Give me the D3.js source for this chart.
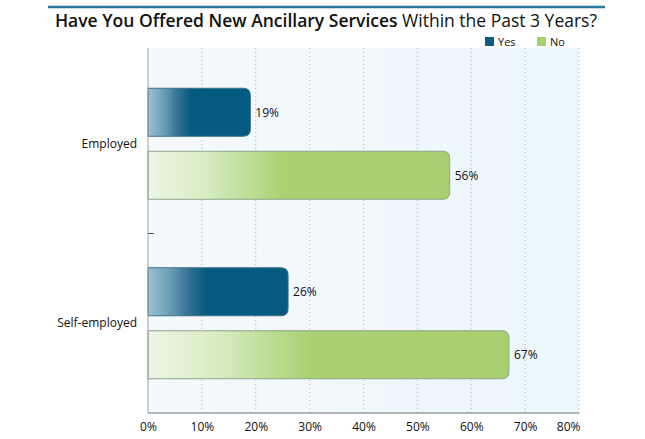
<!DOCTYPE html>
<html><head><meta charset="utf-8">
<script src="https://cdn.jsdelivr.net/npm/d3@7/dist/d3.min.js"></script>
<style>body{margin:0;background:#fff;font-family:"Open Sans",Lato,sans-serif;}</style>
</head><body>
<svg id="c" width="645" height="439"></svg>
<script>
const categories = ["Employed", "Self-employed"];
const seriesNames = ["Yes", "No"];
const yesValues = [19, 26];
const noValues = [56, 67];
const tickValues = [0, 10, 20, 30, 40, 50, 60, 70, 80];

const FONT = "'Open Sans',Lato,sans-serif";
const svg = d3.select("#c").attr("font-family", FONT);
const m = {l:148, r:579, t:48, b:413};
const x = d3.scaleLinear().domain([0, 80]).range([m.l, m.r]);
const y0 = d3.scaleBand().domain(categories).range([54, m.b]);
const defs = svg.append("defs");

const bg = defs.append("linearGradient").attr("id","bg");
bg.append("stop").attr("offset",0).attr("stop-color","#f6f9fc");
bg.append("stop").attr("offset",1).attr("stop-color","#ebf7fc");
const gy = defs.append("linearGradient").attr("id","gYes");
[[0,"#9cc1d3"],[0.15,"#6f9fb9"],[0.3,"#2f6f92"],[0.42,"#055a80"],[1,"#045a80"]].forEach(s=>gy.append("stop").attr("offset",s[0]).attr("stop-color",s[1]));
const gn = defs.append("linearGradient").attr("id","gNo");
[[0,"#edf6e6"],[0.2,"#d6ebc0"],[0.45,"#a9d172"],[1,"#a8d070"]].forEach(s=>gn.append("stop").attr("offset",s[0]).attr("stop-color",s[1]));

// title
svg.append("line").attr("x1",48).attr("x2",605).attr("y1",7).attr("y2",7).attr("stroke","#2a7a9e").attr("stroke-width",2.5);
const t = svg.append("text").attr("x",326).attr("y",27).attr("text-anchor","middle").attr("font-size",17.5).attr("fill","#111");
t.append("tspan").attr("font-weight",600).text("Have You Offered New Ancillary Services ");
t.append("tspan").text("Within the Past 3 Years?");

// legend
const lg = [{n:seriesNames[0],c:"#0b5c82",x:485},{n:seriesNames[1],c:"#a8d070",x:537}];
lg.forEach(d=>{
  svg.append("rect").attr("x",d.x).attr("y",37).attr("width",9).attr("height",9).attr("fill",d.c);
  svg.append("text").attr("x",d.x+13).attr("y",46).attr("font-size",11).attr("fill","#111").text(d.n);
});

// plot bg
svg.append("rect").attr("x",m.l).attr("y",m.t).attr("width",m.r-m.l).attr("height",m.b-m.t).attr("fill","url(#bg)");
// grid
svg.selectAll(".grid").data(tickValues.slice(1)).enter().append("line")
  .attr("x1",d=>x(d)).attr("x2",d=>x(d)).attr("y1",m.t).attr("y2",m.b)
  .attr("stroke","#a9b4bb").attr("stroke-dasharray","1,3").attr("stroke-width",1);

function barPath(x0,yT,w,h,r){
  return `M${x0},${yT}H${x0+w-r}Q${x0+w},${yT} ${x0+w},${yT+r}V${yT+h-r}Q${x0+w},${yT+h} ${x0+w-r},${yT+h}H${x0}Z`;
}
const bw = 48, gap = 15;
categories.forEach((c,i)=>{
  const center = y0(c) + y0.bandwidth()/2;
  const start = center - (2*bw+gap)/2;
  const vals = [yesValues[i], noValues[i]];
  vals.forEach((v,j)=>{
    const yT = start + j*(bw+gap);
    const w = x(v)-x(0);
    svg.append("path").attr("d",barPath(x(0),yT,w,bw,7))
      .attr("fill", j===0?"url(#gYes)":"url(#gNo)")
      .attr("stroke", j===0?"#3d6f8a":"#8aa58a").attr("stroke-width",1);
    svg.append("text").attr("x",x(v)+5).attr("y",yT+bw/2+4.5).attr("font-size",12).attr("fill","#111").text(v+"%");
  });
  svg.append("text").attr("x",137).attr("y",center+4).attr("text-anchor","end").attr("font-size",12).attr("fill","#111").text(c);
});

// axes
svg.append("line").attr("x1",m.l).attr("x2",m.l).attr("y1",m.t).attr("y2",m.b).attr("stroke","#9aa0a4");
svg.append("line").attr("x1",m.l).attr("x2",m.l+6).attr("y1",y0(categories[1])).attr("y2",y0(categories[1])).attr("stroke","#555");
svg.append("line").attr("x1",m.l).attr("x2",m.r).attr("y1",m.b).attr("y2",m.b).attr("stroke","#9aa0a4").attr("stroke-width",1.5);
const ax = svg.append("g").attr("transform",`translate(0,${m.b})`)
  .call(d3.axisBottom(x).tickValues(tickValues).tickFormat(d=>d+"%").tickSize(0).tickPadding(9));
ax.select(".domain").remove();
ax.selectAll("text").attr("font-size",12).attr("fill","#111").attr("font-family",FONT)
  .filter(d=>d===80).attr("text-anchor","end").attr("dx",0).attr("x",1);
</script>
</body></html>
